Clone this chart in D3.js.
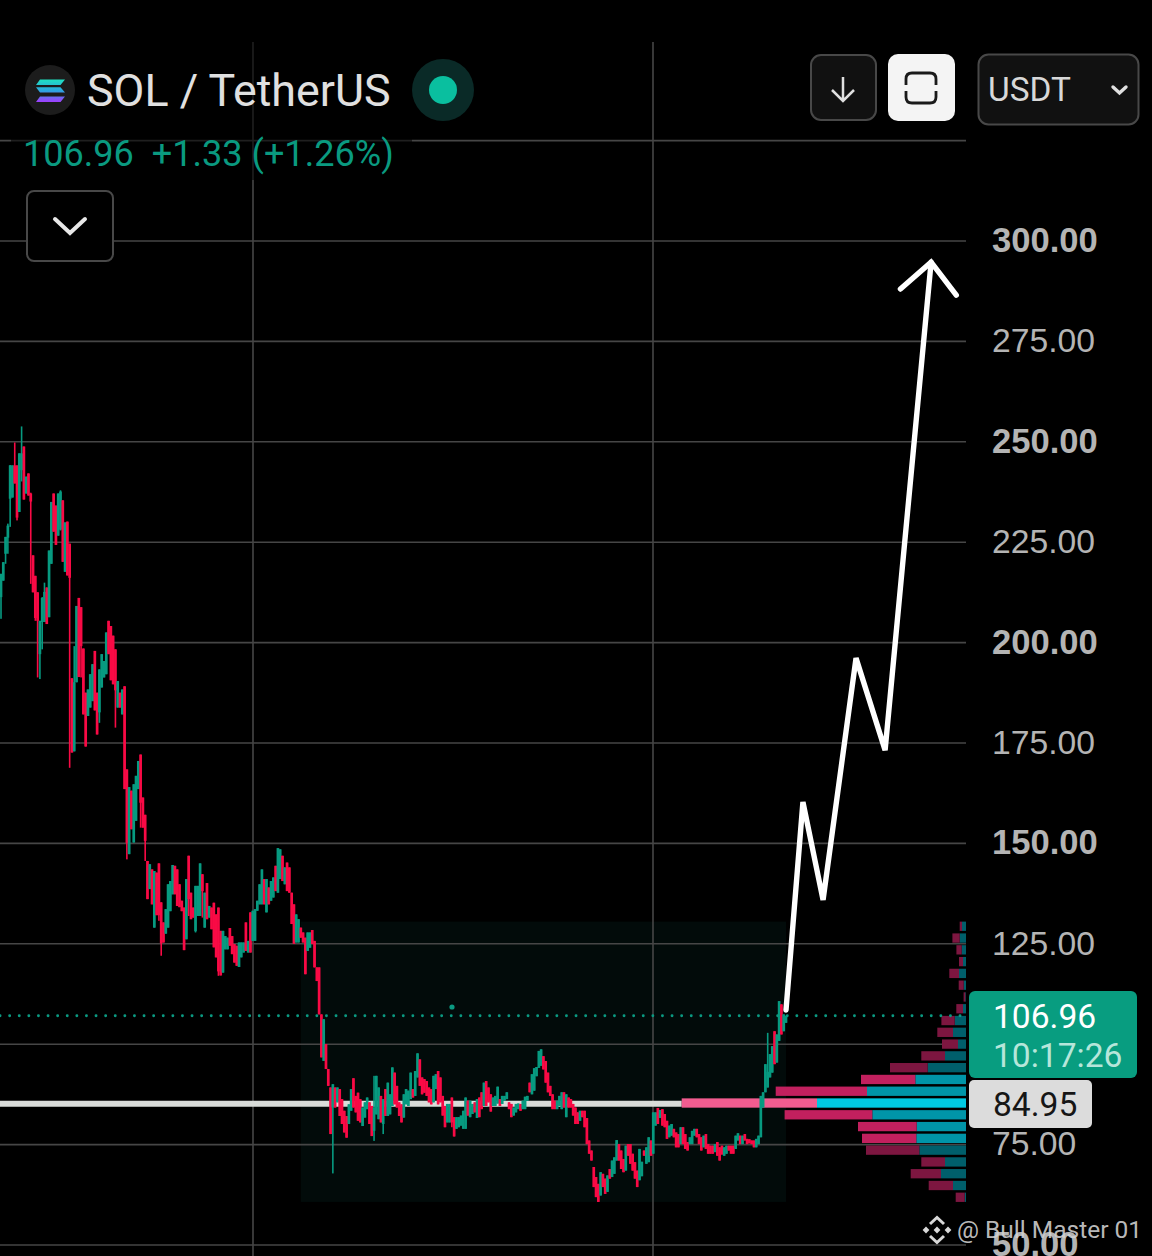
<!DOCTYPE html>
<html>
<head>
<meta charset="utf-8">
<script src="https://cdn.jsdelivr.net/npm/d3@7"></script>
<style>
  html, body { margin: 0; padding: 0; background: #000; }
  svg { display: block; }
</style>
</head>
<body>
<div id="chart"></div>
<script>
/**
 * Candle rows: [open, close] or [open, close, high, low].
 */
const candlesTop = [
  [211.2,217,217,205.8],[215.3,219.9],[222,226.2,226.2,219.5],[226,229,229.5,222],[235.7,244,244.1,228.7],
  [236,244],[244,239.5,249.7,239.5],[244,231,244,230.3],[232.4,247],[242.8,247,253.7,240],
  [248.7,235.5],[237,241.2],[242,236.5],[237,235,237.2,214.5],[221.6,212.4],
  [216.5,206,216.5,205.3],[212.4,205.3,212.4,191.2],[197,205.3,205.3,190.8],[205,211,211.2,198.2],
  [205,212.5,214.8,205],[213.6,204.5],[206.2,222.8],[219.5,234.9],[237,227.5],
  [234,224.2],[226.5,237],[228,237.5,237.8,227.8],[235.3,220],[217.5,229.8],
  [230,216.6],[224.5,216,224.5,168.7],[191,172.5],[172.8,190,199,172.8],[190,209],
  [211,191.3],[208.7,199,208.7,191.2],[198.4,182],[187.4,174],[181.6,188.2],
  [183.7,192],[185.3,194.5],[197.8,183],[187.4,177],[182.5,193.2,193.2,179.9],
  [188.7,197],[191.2,195.3],[192,202.4],[205.3,197],[204,190.5],
  [201.6,189.5],[198.2,188,198.2,178.7],[183.7,190.3],[187.4,183.7],[182,188.2],
];
const candlesSlide = [
  [189,163.4],[168.3,150,168.3,145.9],[147.2,163.9],[163,153.4],[150.1,164.6],
  [155.5,166.7],[163.4,170.4],[172,160,172,153.8],[161.3,153.8],[157,150.5,157,145.5],
  [145.5,136],[138.5,144.7],[143.4,134.7],[128.9,143],
  [142.6,132],[144.9,132,144.9,130.6],[135.2,125,135.2,121.9],[130.2,125.2],[127.4,133.5],
  [128.9,139.7],[133,140.5],[137.2,144.5],[144.3,137.2],[143.4,134.3],
  [139.7,134],[135.6,133],[133.9,123.3],[126,141],[146.8,136,146.8,131.8],
  [137.6,131],[133.9,131.4],[128,139.3,139.3,127.7],[131.8,139.3],[131.8,144.9],
  [142.2,138,142.2,131.4],[128.9,137.6],[140,131],[131.4,134.3],[133.9,128.5],
  [135.1,124],[132.2,121.5],[133.9,118,133.9,116.9],[128.1,117],[117.7,128.1],
  [123.5,126.8],[123.5,126.4],[128.8,124.4],[126.8,122.3],[124.8,120.2],
  [124.4,119.4],[119.1,125.2],[121.5,125.2],[122.7,125.2],[130.2,123.1],
  [122.7,125.6],[132.7,122.7],[125.6,133.1],[125.6,133.5],[133.1,135.6],
  [134.7,139.7],[134.7,143.4],[141,134.7],[132.7,141],[138.9,134.7],
  [135.6,140.5],[136.4,141.4],[144.3,138],[137.6,148.7],[141,148.4],
  [146.8,140.5],[139.7,143.9],[145.1,138],[143.9,137.6],[137.6,129.8],
  [134.7,124.9],[125.2,132.2],[125.2,131],[128.9,126.4],[127.7,125.2],
  [126.4,117.3],[123.1,127.7],[123.9,127.7],[128.3,124.8],[125.6,119],
  [119,115.6],[119,107.3],[107.3,96.6],[95.7,106.1],[99.9,93.7],
  [93.7,89.5],[89.1,77.5],[84.1,89.9,89.9,67.7],
];
const candlesRange = [
  [89.1,84.1],[85.4,89.1],[88.7,82],[86.2,80],[83.3,77.9],[82,76.6],[80,84.9],[83.3,88.7],[91.4,84.1],[87,82.9],
  [87.8,80.8],[86.2,80.4],[79.5,84.1],[81.6,85.4],[83.7,86.6],[85.4,80],[84.5,77],[78.3,84.1,92,75.8],[82.4,92],[81.2,89.1],
  [87,80.4],[80,86.2,86.2,77.5],[88.7,82],[82,90.3],[82.4,87.4],[84.5,94.1],[92.8,84.9],[89.5,84.1],[85.4,82],[84.9,80.4],
  [81.6,87.4],[84.9,88.7],[84.5,88.3],[86.2,92.8],[88.7,86.6],[87,93.2],[91.6,97.6],[96.1,89.5],[91.6,87.4],
  [91.2,87.8],[90.7,87],[89.1,85.4],[88.7,84.9],[85.4,92],[88.7,92.4],[93.2,84.9],[91.6,85.4],[87,82.1],[84.5,79.2],
  [80.4,85],[80.4,85],[86.6,80.4,86.6,79.2],[81.7,76.9],[78.8,81.7],[79.2,81.7],[79.6,82.1],[78.8,83.3],[78.8,86.6],[85.8,82.1],
  [81.7,85.8],[82.5,85],[85.4,82.9],[81.5,86.2],[86.6,81.7],[87.9,83.7],[84.5,90.3],[90.7,84.5],[89.1,85.4],[87.4,83.1],
  [84.5,86.6],[84.5,87],[85.1,89.3],[86.2,84.5],[85,87],[85.8,87],[86.2,87.9],[85.4,83.7],[85,81.7],[82.1,84.1],
  [82.9,85],[83.7,85.1],[85,83.3],[83.7,85.8],[83.7,86.8],[85.8,87],[90.3,87.9],[87.4,92.4],[88.3,93.9],[91.9,94.2],
  [94,98.2],[94.5,98.6],[96.9,93.6],[95.7,90.3],[92.8,87.9],[89.5,87],[87.4,83.7],[85.8,83.7],[83.7,85.8],[84.5,87],
  [83.7,87.9],[87.9,84.1],[81.7,87.4],[86.6,84.1],[86.2,84.1],[85,82.1],[84.1,80],[82.9,80],[80.8,83.3],[83.3,81.7],
  [83.3,79.2],[81.5,75],[75.9,72.6],[73.4,70.9],[69.3,64.3],[66.8,61.8],[65.1,60.6],[62.2,68],[67.6,64.3],[66.4,62.6],
  [63.1,67.2],[68.8,66.4],[66.8,70.9],[67.6,71.7],[70.9,76],[75,70.9],[73.4,68.8],[71.3,68],[68.4,74.6],[75,72.1],
  [75,70.1],[72.6,68.4],[70.5,66.4],[68.4,64.3],[66,73.8],[67,70.6],[73.4,72.1],[70.1,74.2],[70.5,76.7],[75.9,72.1],[72.6,82.9],
  [79.6,82.9],[84,80],[81.5,83.5],[83.7,79.6],[82.5,79.2],[80.8,76.3],[76.7,79.6],[77.1,80],[78.8,76.7],[77.9,74.2],
  [77.5,74.2],[75,79.2],[79.2,75],[77.5,73.8],[75.5,73.4],[75,76.7],[75,78.3],[77.1,78.8],[78.8,76.7],[77.5,75],
  [76.7,73.4],[74.2,77.1],[77.5,73.8],[75,72.6],[74.6,72.6],[74.6,72.6],[73,75],[75.5,72.1],[74.2,70.9],[74.6,72.4],[72.1,74.2],
  [72.6,74.6],[74.6,73.4],[74.6,72.6],[74.6,72.6],[73.8,77.1],[75.9,77.7],[77.1,75],[75,77.1],[77.5,75.9],[76.3,75],[76.2,75.2],
  [75.9,75],[75.9,74.2],[74.2,76.3],[75,77.1],[76.7,87],[84.1,87.9],[87.9,94.9],[89.1,93,102.7,89.1],[91.6,97.4],[92.8,99.4],
  [103.1,94.9],[95.3,102.3],[100.7,110.6],[109.8,102.3],[103.1,107.3],[105.2,106.96],
];

// Price axis.
const priceTicks = [325, 300, 275, 250, 225, 200, 175, 150, 125, 100, 75, 50];
const boldTicks = [300, 250, 200, 150, 50];
const hiddenTicks = [325, 100];

// Last price and the highest volume price.
const lastPrice = 106.96;
const pocPrice = 84.95;
const countdown = "10:17:26";

// Volume profile, top row first.
const profileBuy = [4, 6.3, 4.3, 3, 7, 2.3, 0.7, 3, 11.3, 13, 8, 21, 38.3, 50.7, 99, 149, 93.7, 49.3, 49.7, 46.7, 21, 25, 13, 1.3];
const profileSell = [2.3, 7.3, 5.3, 4, 9.7, 5, 1.7, 6.7, 13.3, 15.7, 16, 23.7, 37.7, 54.3, 91.3, 135.3, 87.7, 58.7, 54.3, 53.3, 23.7, 30.3, 24.3, 9];
const profileTop = 130.4;
const profileBottom = 60.6;
const profilePocRow = 15;
const profileAreaRows = [13, 14, 15, 16, 17, 18]; // value area is drawn brighter

// Hand drawn projection: bars after the last candle, and price.
const projectionBars = [0, 7.4, 16.2, 30.6, 43.3, 63.4];
const projectionPrices = [108.4, 160.2, 135.8, 196, 173.1, 294.6];
const arrowHeadBars = [50, 63.4, 74.4];
const arrowHeadPrices = [287.9, 294.6, 286.4];

/**
 * Layout.
 */
const width = 1152;
const height = 1256;
const plotRight = 966;

const candles = [...candlesTop, ...candlesSlide, ...candlesRange].map((row, i) => ({
  i,
  open: row[0],
  close: row[1],
  high: row.length > 2 ? row[2] : Math.max(row[0], row[1]),
  low: row.length > 2 ? row[3] : Math.min(row[0], row[1]),
}));
const lastBar = candles.length - 1;

const green = "#079a80";
const red = "#f90a45";

const svg = d3
  .select("#chart")
  .append("svg")
  .attr("width", width)
  .attr("height", height)
  .attr("viewBox", [0, 0, width, height])
  .attr("font-family", "Roboto, sans-serif");

// Scales.
const x = d3.scaleLinear().domain([0, lastBar]).range([1, 786]);
const y = d3.scaleLinear().domain([300, 50]).range([240.5, 1244.5]);
const profileRow = d3
  .scaleBand()
  .domain(d3.range(profileBuy.length))
  .range([y(profileTop), y(profileBottom)])
  .paddingInner(0.21);
const profileWidth = d3.scaleLinear().domain([0, 284.3]).range([0, 284.3]);

/**
 * Drawing box behind the last range.
 */
svg
  .append("rect")
  .attr("x", x(131))
  .attr("y", y(profileTop))
  .attr("width", 786 - x(131))
  .attr("height", y(profileBottom) - y(profileTop))
  .attr("fill", "#020b0a");

/**
 * Grid and price axis.
 */
const axis = svg
  .append("g")
  .call(
    d3
      .axisRight(y)
      .tickValues(priceTicks)
      .tickSize(plotRight)
      .tickPadding(26)
      .tickFormat((d) => (hiddenTicks.includes(d) ? "" : d.toFixed(2)))
  );
axis.select(".domain").remove();
axis.selectAll("line").attr("stroke", "#464646").attr("stroke-width", 1.6);
axis
  .selectAll("text")
  .attr("fill", "#b4b4b4")
  .attr("font-size", (d) => (boldTicks.includes(d) ? 34.6 : 33.7))
  .attr("font-weight", (d) => (boldTicks.includes(d) ? 700 : 400));

// Vertical grid lines.
svg
  .selectAll(".vgrid")
  .data([253, 653])
  .join("line")
  .attr("class", "vgrid")
  .attr("x1", (d) => d)
  .attr("x2", (d) => d)
  .attr("y1", 42)
  .attr("y2", height)
  .attr("stroke", "#464646")
  .attr("stroke-width", 1.6);

// The legend dims the grid behind it.
svg
  .append("rect")
  .attr("x", 11)
  .attr("y", 42)
  .attr("width", 401)
  .attr("height", 138)
  .attr("fill", "#000")
  .attr("opacity", 0.55);

/**
 * Highest volume price line.
 */
svg
  .append("line")
  .attr("x1", 0)
  .attr("x2", plotRight - profileWidth(profileBuy[profilePocRow] + profileSell[profilePocRow]))
  .attr("y1", y(pocPrice) - 0.4)
  .attr("y2", y(pocPrice) - 0.4)
  .attr("stroke", "#d9dcd9")
  .attr("stroke-width", 6);

/**
 * Volume profile.
 */
function profileColors(i) {
  if (i === profilePocRow) return ["#00c9e2", "#f25c90"];
  if (profileAreaRows.includes(i)) return ["#0095a8", "#c2205e"];
  return ["#005f6b", "#7d1640"];
}

const rows = svg
  .append("g")
  .selectAll("g")
  .data(d3.range(profileBuy.length))
  .join("g")
  .attr("transform", (i) => `translate(0,${profileRow(i)})`);

rows
  .append("rect")
  .attr("x", (i) => plotRight - profileWidth(profileBuy[i]))
  .attr("width", (i) => profileWidth(profileBuy[i]))
  .attr("height", profileRow.bandwidth())
  .attr("fill", (i) => profileColors(i)[0]);

rows
  .append("rect")
  .attr("x", (i) => plotRight - profileWidth(profileBuy[i] + profileSell[i]))
  .attr("width", (i) => profileWidth(profileSell[i]))
  .attr("height", profileRow.bandwidth())
  .attr("fill", (i) => profileColors(i)[1]);

/**
 * Candles.
 */
const candle = svg
  .append("g")
  .selectAll("g")
  .data(candles)
  .join("g")
  .attr("fill", (d) => (d.close >= d.open ? green : red));

candle
  .append("rect")
  .attr("x", (d) => x(d.i) - 0.8)
  .attr("width", 1.6)
  .attr("y", (d) => y(d.high))
  .attr("height", (d) => Math.max(1, y(d.low) - y(d.high)));

candle
  .append("rect")
  .attr("x", (d) => x(d.i) - 1.35)
  .attr("width", 2.7)
  .attr("y", (d) => y(Math.max(d.open, d.close)))
  .attr("height", (d) => Math.max(1, Math.abs(y(d.open) - y(d.close))));

/**
 * Last price line.
 */
svg
  .append("line")
  .attr("x1", 0)
  .attr("x2", plotRight)
  .attr("y1", y(lastPrice))
  .attr("y2", y(lastPrice))
  .attr("stroke", "#0b9a82")
  .attr("stroke-width", 2.8)
  .attr("stroke-linecap", "round")
  .attr("stroke-dasharray", "0.1 9.5");

svg.append("circle").attr("cx", 452).attr("cy", 1007).attr("r", 2.6).attr("fill", "#0b9a82");

/**
 * Projection arrow.
 */
const projectionLine = d3
  .line()
  .x((d) => x(lastBar + d[0]))
  .y((d) => y(d[1]));

svg
  .selectAll(".projection")
  .data([d3.zip(projectionBars, projectionPrices), d3.zip(arrowHeadBars, arrowHeadPrices)])
  .join("path")
  .attr("class", "projection")
  .attr("d", projectionLine)
  .attr("fill", "none")
  .attr("stroke", "#fff")
  .attr("stroke-width", 5.4)
  .attr("stroke-linecap", "round")
  .attr("stroke-linejoin", "miter");

/**
 * Price tags.
 */
svg
  .append("rect")
  .attr("x", 969)
  .attr("y", 991)
  .attr("width", 168)
  .attr("height", 87)
  .attr("rx", 6)
  .attr("fill", "#089d80");

svg
  .append("text")
  .attr("x", 993)
  .attr("y", 1028)
  .attr("font-size", 33.6)
  .attr("fill", "#fff")
  .text(lastPrice.toFixed(2));

svg
  .append("text")
  .attr("x", 993)
  .attr("y", 1067)
  .attr("font-size", 33.6)
  .attr("fill", "#b6e6da")
  .text(countdown);

svg
  .append("rect")
  .attr("x", 969)
  .attr("y", 1080)
  .attr("width", 123)
  .attr("height", 48)
  .attr("rx", 5)
  .attr("fill", "#dcdcdc");

svg
  .append("text")
  .attr("x", 993)
  .attr("y", 1116)
  .attr("font-size", 33.6)
  .attr("fill", "#161616")
  .text(pocPrice.toFixed(2));

/**
 * Legend.
 */
// Solana logo.
const logo = svg.append("g");
const defs = svg.append("defs");
const gradient = defs
  .append("linearGradient")
  .attr("id", "solana")
  .attr("x1", 0)
  .attr("x2", 0)
  .attr("y1", 0)
  .attr("y2", 1);
gradient.append("stop").attr("offset", "0%").attr("stop-color", "#1fe0c0");
gradient.append("stop").attr("offset", "50%").attr("stop-color", "#2ba6e0");
gradient.append("stop").attr("offset", "100%").attr("stop-color", "#a03dff");

logo.append("circle").attr("cx", 50).attr("cy", 90).attr("r", 25).attr("fill", "#1c1c1c");
logo
  .append("path")
  .attr(
    "d",
    "M40 79.5H65L60.5 85H36ZM36 87.2H60.5L65 92.5H40ZM40 96.5H65L60.5 102H36Z"
  )
  .attr("fill", "url(#solana)");

svg
  .append("text")
  .attr("x", 87)
  .attr("y", 106)
  .attr("font-size", 44.8)
  .attr("font-weight", 400)
  .attr("fill", "#e0e0e0")
  .text("SOL / TetherUS");

svg.append("circle").attr("cx", 443).attr("cy", 90).attr("r", 31).attr("fill", "#0a2a27");
svg.append("circle").attr("cx", 443).attr("cy", 90).attr("r", 14).attr("fill", "#0abf9f");

svg
  .append("text")
  .attr("x", 23)
  .attr("y", 166)
  .attr("font-size", 36.1)
  .attr("font-weight", 400)
  .attr("fill", "#0a9a80")
  .attr("xml:space", "preserve")
  .style("white-space", "pre")
  .text("106.96  +1.33 (+1.26%)");

// Collapse button.
svg
  .append("rect")
  .attr("x", 27)
  .attr("y", 191)
  .attr("width", 86)
  .attr("height", 70)
  .attr("rx", 7)
  .attr("fill", "#000")
  .attr("stroke", "#484848")
  .attr("stroke-width", 2);

svg
  .append("path")
  .attr("d", "M55 219L70 233L85 219")
  .attr("fill", "none")
  .attr("stroke", "#e8e8e8")
  .attr("stroke-width", 4)
  .attr("stroke-linecap", "round");

/**
 * Top right buttons.
 */
svg
  .append("rect")
  .attr("x", 811)
  .attr("y", 55)
  .attr("width", 65)
  .attr("height", 65)
  .attr("rx", 10)
  .attr("fill", "#111")
  .attr("stroke", "#484848")
  .attr("stroke-width", 2);

svg
  .append("path")
  .attr("d", "M843 77V101M832 90L843 101L854 90")
  .attr("fill", "none")
  .attr("stroke", "#e0e0e0")
  .attr("stroke-width", 2.5);

svg
  .append("rect")
  .attr("x", 888)
  .attr("y", 54)
  .attr("width", 67)
  .attr("height", 67)
  .attr("rx", 10)
  .attr("fill", "#f4f4f4");

svg
  .append("path")
  .attr("d", "M906 85V79Q906 73 912 73H930Q936 73 936 79V85M906 91V97Q906 103 912 103H930Q936 103 936 97V91")
  .attr("fill", "none")
  .attr("stroke", "#1a1a1a")
  .attr("stroke-width", 2.8);

svg
  .append("rect")
  .attr("x", 978.5)
  .attr("y", 54.5)
  .attr("width", 160)
  .attr("height", 70)
  .attr("rx", 10)
  .attr("fill", "#111")
  .attr("stroke", "#484848")
  .attr("stroke-width", 2);

svg
  .append("text")
  .attr("x", 988)
  .attr("y", 101)
  .attr("font-size", 33.4)
  .attr("fill", "#d8d8d8")
  .text("USDT");

svg
  .append("path")
  .attr("d", "M1113 87L1119.5 93L1126 87")
  .attr("fill", "none")
  .attr("stroke", "#e0e0e0")
  .attr("stroke-width", 3.4)
  .attr("stroke-linecap", "round");

/**
 * Watermark.
 */
const mark = svg.append("g").attr("transform", "translate(937,1230)");
mark
  .append("path")
  .attr("d", "M-7 -6L0 -12.5L7 -6M-7 6L0 12.5L7 6")
  .attr("fill", "none")
  .attr("stroke", "#d8d8d8")
  .attr("stroke-width", 3);
mark
  .selectAll("rect")
  .data([-11, 0, 11])
  .join("rect")
  .attr("x", -2.4)
  .attr("y", -2.4)
  .attr("width", 4.8)
  .attr("height", 4.8)
  .attr("fill", "#d8d8d8")
  .attr("transform", (d) => `translate(${d},0) rotate(45)`);

svg
  .append("text")
  .attr("x", 957)
  .attr("y", 1238)
  .attr("font-size", 24.5)
  .attr("fill", "#d2d2d2")
  .attr("fill-opacity", 0.9)
  .text("@ Bull Master 01");
</script>
</body>
</html>
